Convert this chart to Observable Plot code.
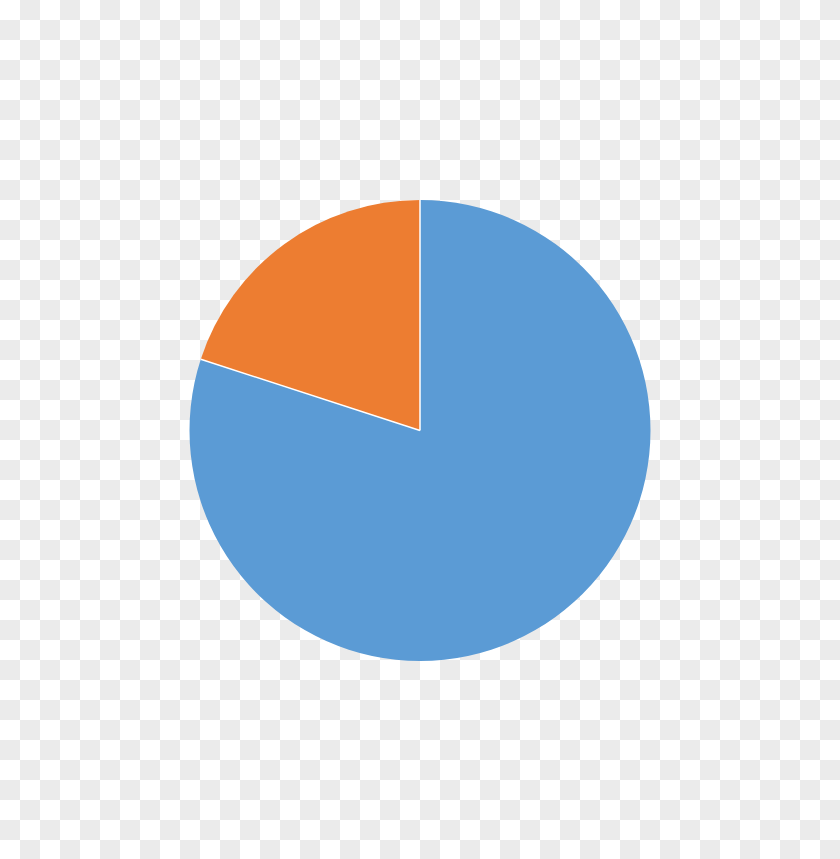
<!DOCTYPE html>
<html>
<head>
<meta charset="utf-8">
<script src="https://cdn.jsdelivr.net/npm/d3@7"></script>
<script src="https://cdn.jsdelivr.net/npm/@observablehq/plot@0.6"></script>
<style>
  html, body { margin: 0; padding: 0; }
  body {
    width: 840px; height: 859px; overflow: hidden;
    background: repeating-conic-gradient(#ebebeb 0 25%, #ffffff 0 50%) 0 0 / 40px 40px;
  }
</style>
</head>
<body>
<div id="chart"></div>
<script>
const categories = ["A", "B"];
const values = [80, 20];
const colors = ["#5B9BD5", "#ED7D31"];

const data = categories.map((c, i) => ({category: c, value: values[i]}));

const pieMark = Plot.dot(data, {
  x: () => 0,
  y: () => 0,
  fill: "category",
  r: 0,
  render(index, scales, channels, dimensions, context) {
    const cx = scales.x(0), cy = scales.y(0);
    const R = Math.abs(scales.x(1) - scales.x(0));
    const arcs = d3.pie().sort(null).value(d => d.value)(data);
    const arc = d3.arc().innerRadius(0).outerRadius(R);
    const g = d3.create("svg:g").attr("transform", `translate(${cx},${cy})`);
    g.selectAll("path")
      .data(arcs)
      .join("path")
      .attr("d", arc)
      .attr("fill", d => scales.color(d.data.category));
    g.selectAll("line")
      .data(arcs)
      .join("line")
      .attr("x1", 0).attr("y1", 0)
      .attr("x2", d => R * Math.sin(d.startAngle))
      .attr("y2", d => -R * Math.cos(d.startAngle))
      .attr("stroke", "#ffffff")
      .attr("stroke-width", 1.5)
      .attr("stroke-linecap", "butt");
    return g.node();
  }
});

const chart = Plot.plot({
  width: 840,
  height: 859,
  marginLeft: 189.5,
  marginRight: 189.5,
  marginTop: 200,
  marginBottom: 198,
  x: {domain: [-1, 1], axis: null},
  y: {domain: [-1, 1], axis: null},
  color: {domain: categories, range: colors},
  style: {background: "transparent"},
  marks: [pieMark]
});

document.getElementById("chart").append(chart);
</script>
</body>
</html>
